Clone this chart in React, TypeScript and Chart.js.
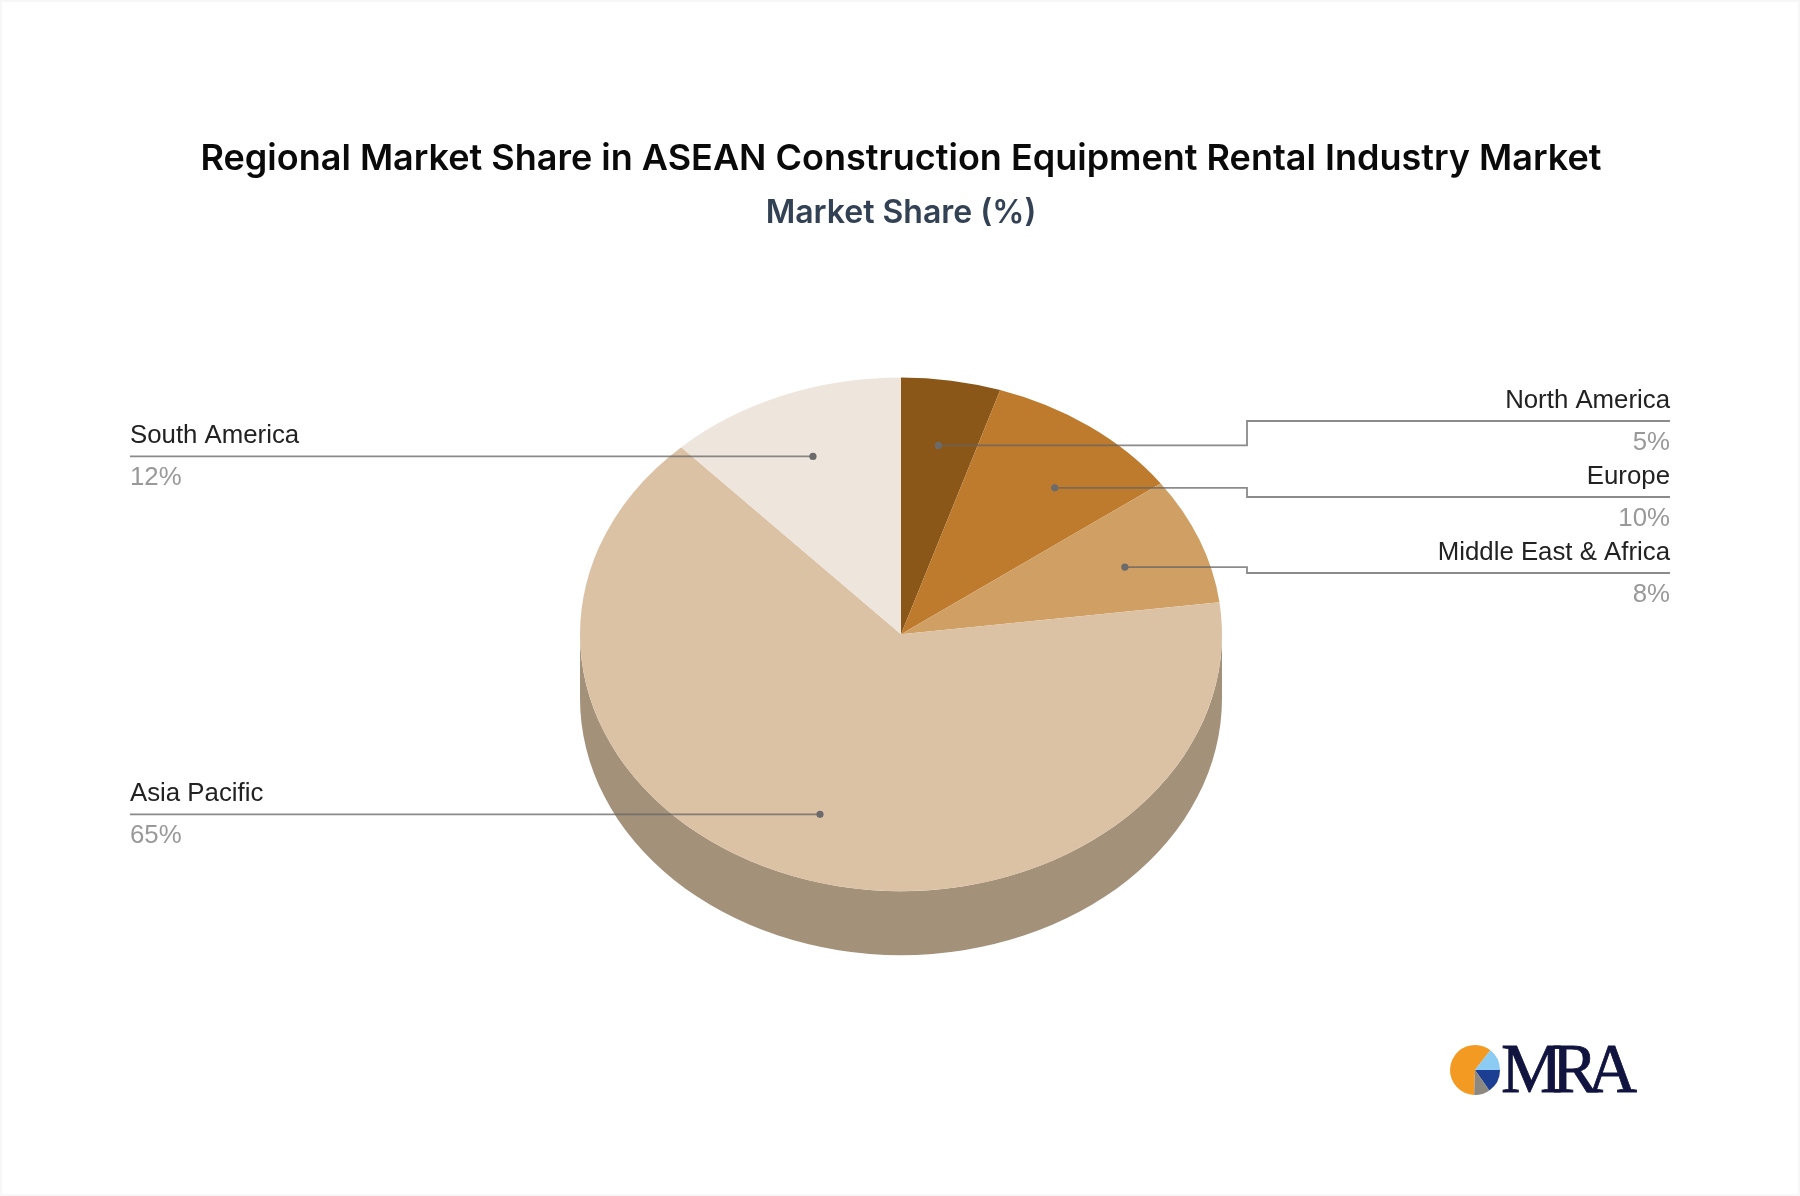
import { useEffect, useRef } from 'react';
import { Chart, registerables, type Plugin } from 'chart.js';

Chart.register(...registerables);

const regions = ['North America', 'Europe', 'Middle East & Africa', 'Asia Pacific', 'South America'];
const shares = [5, 10, 8, 65, 12];
const sliceColors = ['#8B5718', '#BE7B2E', '#D09F63', '#DCC2A4', '#EEE5DD'];
const sideColors = ['#684112', '#8E5C22', '#9C774A', '#A4917A', '#B2ACA6'];

// leader layout, in canvas px
const TILT = 0.8;
const DEPTH = 64;
const ELBOW_X = 1247;
const RIGHT_X = 1670;
const LEFT_X = 130;
const RIGHT_ROWS: Record<string, number> = { 'North America': 421, Europe: 497, 'Middle East & Africa': 573 };
const ANCHOR_NUDGE_DEG = [0, 4, 1, 0, 0];

const LABEL_FONT = '25.8px "Liberation Sans", Arial, sans-serif';

const tiltPlugin: Plugin<'pie'> = {
  id: 'tilt',
  beforeDatasetsDraw(chart) {
    const { ctx } = chart;
    const arcs = chart.getDatasetMeta(0).data as any[];
    const { x, y } = arcs[0];
    ctx.save();
    ctx.translate(x, y);
    ctx.scale(1, TILT);
    ctx.translate(-x, -y);
    // side wall, only the part of each slice that faces front
    arcs.forEach((arc, i) => {
      const from = Math.max(arc.startAngle, 0);
      const to = Math.min(arc.endAngle, Math.PI);
      if (to <= from) return;
      const r = arc.outerRadius;
      const d = DEPTH / TILT;
      ctx.beginPath();
      ctx.arc(x, y, r, from, to);
      ctx.arc(x, y + d, r, to, from, true);
      ctx.closePath();
      ctx.fillStyle = sideColors[i];
      ctx.fill();
    });
  },
  afterDatasetsDraw(chart) {
    chart.ctx.restore();
  },
};

const leaderPlugin: Plugin<'pie'> = {
  id: 'leaders',
  afterDatasetsDraw(chart) {
    const { ctx } = chart;
    const arcs = chart.getDatasetMeta(0).data as any[];
    ctx.save();
    arcs.forEach((arc, i) => {
      const mid = (arc.startAngle + arc.endAngle) / 2 + (ANCHOR_NUDGE_DEG[i] * Math.PI) / 180;
      const px = arc.x + Math.cos(mid) * arc.outerRadius * 0.745;
      const py = arc.y + Math.sin(mid) * arc.outerRadius * 0.745 * TILT;
      const row = RIGHT_ROWS[regions[i]];
      const isRight = row !== undefined;
      const lineY = isRight ? row : py;

      ctx.strokeStyle = 'rgba(100,100,100,0.75)';
      ctx.lineWidth = 1.8;
      ctx.beginPath();
      ctx.moveTo(px, py);
      if (isRight) {
        ctx.lineTo(ELBOW_X, py);
        ctx.lineTo(ELBOW_X, lineY);
        ctx.lineTo(RIGHT_X, lineY);
      } else {
        ctx.lineTo(LEFT_X, lineY);
      }
      ctx.stroke();

      ctx.fillStyle = '#6b6b6b';
      ctx.beginPath();
      ctx.arc(px, py, 3.6, 0, Math.PI * 2);
      ctx.fill();

      ctx.font = LABEL_FONT;
      ctx.textAlign = isRight ? 'right' : 'left';
      ctx.textBaseline = 'alphabetic';
      const textX = isRight ? RIGHT_X : LEFT_X;
      ctx.fillStyle = '#222222';
      ctx.fillText(regions[i], textX, lineY - 13);
      ctx.fillStyle = '#999999';
      ctx.fillText(`${shares[i]}%`, textX, lineY + 28.5);
    });
    ctx.restore();
  },
};

const pagePlugin: Plugin<'pie'> = {
  id: 'page',
  beforeDraw(chart) {
    const { ctx, width, height } = chart;
    ctx.save();
    ctx.fillStyle = '#ffffff';
    ctx.fillRect(0, 0, width, height);
    ctx.strokeStyle = '#f7f7f7';
    ctx.lineWidth = 2;
    ctx.strokeRect(1, 1, width - 2, height - 2);
    ctx.restore();
  },
  afterDraw(chart) {
    // MRA logo
    const { ctx } = chart;
    const cx = 1475;
    const cy = 1070;
    const r = 25;
    const wedge = (from: number, to: number, color: string) => {
      ctx.beginPath();
      ctx.moveTo(cx, cy);
      ctx.arc(cx, cy, r, (from * Math.PI) / 180, (to * Math.PI) / 180);
      ctx.closePath();
      ctx.fillStyle = color;
      ctx.fill();
    };
    ctx.save();
    wedge(92, 308, '#F39A23');
    wedge(308, 360, '#8CCBF2');
    wedge(0, 55, '#1C3F94');
    wedge(55, 92, '#8C8880');
    ctx.font = '69px "Liberation Serif", serif';
    ctx.letterSpacing = '-10.5px';
    ctx.fillStyle = '#10143F';
    ctx.strokeStyle = '#10143F';
    ctx.lineWidth = 0.8;
    ctx.textAlign = 'left';
    ctx.textBaseline = 'alphabetic';
    ctx.fillText('MRA', 1501, 1092);
    ctx.strokeText('MRA', 1501, 1092);
    ctx.restore();
  },
};

export default function App() {
  const canvasRef = useRef<HTMLCanvasElement>(null);

  useEffect(() => {
    document.body.style.margin = '0';
    if (!canvasRef.current) return;
    const chart = new Chart(canvasRef.current, {
      type: 'pie',
      data: {
        labels: regions,
        datasets: [
          {
            data: shares,
            backgroundColor: sliceColors,
            borderWidth: 0,
            radius: 321,
          },
        ],
      },
      options: {
        responsive: false,
        animation: false,
        devicePixelRatio: 1,
        layout: { padding: { left: 2, right: 0, top: 0, bottom: 169.4 } },
        plugins: {
          legend: { display: false },
          tooltip: { enabled: false },
          title: {
            display: true,
            text: 'Regional Market Share in ASEAN Construction Equipment Rental Industry Market',
            color: '#0a0a0a',
            font: { family: 'Inter', size: 36, weight: 600 },
            padding: { top: 138, bottom: 12.5 },
          },
          subtitle: {
            display: true,
            text: 'Market Share (%)',
            color: '#334155',
            font: { family: 'Inter', size: 32, weight: 600 },
            padding: { top: 0, bottom: 10 },
          },
        },
      },
      plugins: [pagePlugin, tiltPlugin, leaderPlugin],
    });
    return () => chart.destroy();
  }, []);

  return <canvas ref={canvasRef} width={1800} height={1196} style={{ display: 'block' }} />;
}
